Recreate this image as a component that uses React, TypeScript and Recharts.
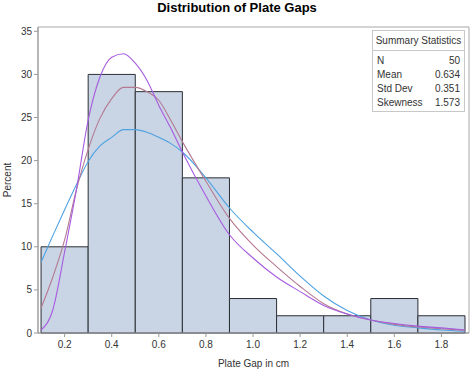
import React from 'react';
import {
  ComposedChart,
  Line,
  XAxis,
  YAxis,
  ReferenceArea,
  Label,
} from 'recharts';

// histogram bins (cm) and percent of plates in each
const binStarts = [0.1, 0.3, 0.5, 0.7, 0.9, 1.1, 1.3, 1.5, 1.7];
const binEnds = [0.3, 0.5, 0.7, 0.9, 1.1, 1.3, 1.5, 1.7, 1.9];
const binPercents = [10, 30, 28, 18, 4, 2, 2, 4, 2];

// density curves
const curveX = [0.1, 0.15, 0.2, 0.25, 0.3, 0.35, 0.4, 0.45, 0.5, 0.55, 0.6, 0.65, 0.7, 0.8, 0.9, 1.0, 1.1, 1.2, 1.3, 1.4, 1.5, 1.6, 1.7, 1.8, 1.9];
const blueCurve = [8.2, 11.3, 14.3, 17.2, 19.9, 21.7, 22.7, 23.6, 23.6, 23.3, 22.7, 22.0, 21.0, 18.0, 14.5, 11.7, 9.2, 6.6, 4.3, 2.6, 1.5, 0.9, 0.6, 0.35, 0.2];
const mauveCurve = [2.9, 6.5, 10.8, 16.6, 21.3, 24.9, 27.2, 28.5, 28.5, 28.0, 27.0, 24.7, 22.2, 17.6, 13.3, 10.2, 7.7, 5.4, 3.4, 2.2, 1.5, 1.0, 0.7, 0.5, 0.3];
const purpleCurve = [0.35, 2.7, 9.4, 16.6, 24.7, 29.7, 32.0, 32.4, 31.3, 29.3, 26.4, 23.8, 21.0, 15.9, 11.4, 8.7, 6.5, 4.8, 3.2, 2.2, 1.5, 1.1, 0.8, 0.6, 0.35];

const xDomain = [0.087, 1.917];
const yDomain = [0, 35.5];
const xTicks = [0.2, 0.4, 0.6, 0.8, 1.0, 1.2, 1.4, 1.6, 1.8];
const yTicks = [0, 5, 10, 15, 20, 25, 30, 35];

const statLabels = ['N', 'Mean', 'Std Dev', 'Skewness'];
const statValues = ['50', '0.634', '0.351', '1.573'];

const curveData = curveX.map((x, i) => ({
  x,
  blue: blueCurve[i],
  mauve: mauveCurve[i],
  purple: purpleCurve[i],
}));

const font = '"Liberation Sans", Arial, sans-serif';
const tickStyle = { fontSize: 10, fill: '#333', fontFamily: font };

export default function App() {
  return (
    <div style={{ position: 'absolute', left: 0, top: 0, width: 474, height: 370, background: '#fff', fontFamily: font }}>
      <div
        style={{
          position: 'absolute',
          top: 0,
          left: 0,
          width: 474,
          textAlign: 'center',
          fontSize: 13,
          fontWeight: 'bold',
          lineHeight: '16px',
          color: '#000',
        }}
      >
        Distribution of Plate Gaps
      </div>
      <ComposedChart
        width={474}
        height={370}
        data={curveData}
        margin={{ top: 27, right: 5, bottom: 0, left: 0 }}
      >
        <XAxis
          dataKey="x"
          type="number"
          domain={xDomain}
          allowDataOverflow
          ticks={xTicks}
          tickFormatter={(v: number) => v.toFixed(1)}
          tick={tickStyle}
          tickSize={4}
          tickMargin={4}
          height={37}
          stroke="#999"
        >
          <Label value="Plate Gap in cm" position="insideBottom" offset={3} style={{ fontSize: 10, fill: '#333', fontFamily: font }} />
        </XAxis>
        <YAxis
          type="number"
          domain={yDomain}
          allowDataOverflow
          ticks={yTicks}
          tick={tickStyle}
          tickSize={4}
          tickMargin={2}
          width={38}
          stroke="#999"
        >
          <Label value="Percent" angle={-90} position="insideLeft" offset={7} style={{ fontSize: 10, fill: '#333', fontFamily: font, textAnchor: 'middle' }} />
        </YAxis>
        {/* plot frame */}
        <ReferenceArea
          x1={xDomain[0]}
          x2={xDomain[1]}
          y1={yDomain[0]}
          y2={yDomain[1]}
          fill="none"
          stroke="#a8a8a8"
          strokeWidth={1}
        />
        {binStarts.map((start, i) => (
          <ReferenceArea
            key={i}
            x1={start}
            x2={binEnds[i]}
            y1={0}
            y2={binPercents[i]}
            fill="#c9d4e4"
            fillOpacity={1}
            stroke="#2b2f36"
            strokeWidth={1}
          />
        ))}
        <Line type="monotone" dataKey="blue" stroke="#4ea2e2" strokeWidth={1.1} dot={false} isAnimationActive={false} />
        <Line type="monotone" dataKey="mauve" stroke="#b47a92" strokeWidth={1.1} dot={false} isAnimationActive={false} />
        <Line type="monotone" dataKey="purple" stroke="#a75ce0" strokeWidth={1.1} dot={false} isAnimationActive={false} />
      </ComposedChart>
      <div
        style={{
          position: 'absolute',
          left: 372,
          top: 30,
          width: 93,
          height: 82,
          border: '1px solid #c8c8c8',
          boxSizing: 'border-box',
          background: '#fff',
          fontSize: 10,
          color: '#333',
        }}
      >
        <div style={{ textAlign: 'center', height: 19, lineHeight: '19px', borderBottom: '1px solid #c8c8c8' }}>
          Summary Statistics
        </div>
        <div style={{ padding: '3px 4px 0 4px' }}>
          {statLabels.map((label, i) => (
            <div key={label} style={{ display: 'flex', justifyContent: 'space-between', height: 14, lineHeight: '14px' }}>
              <span>{label}</span>
              <span>{statValues[i]}</span>
            </div>
          ))}
        </div>
      </div>
    </div>
  );
}
